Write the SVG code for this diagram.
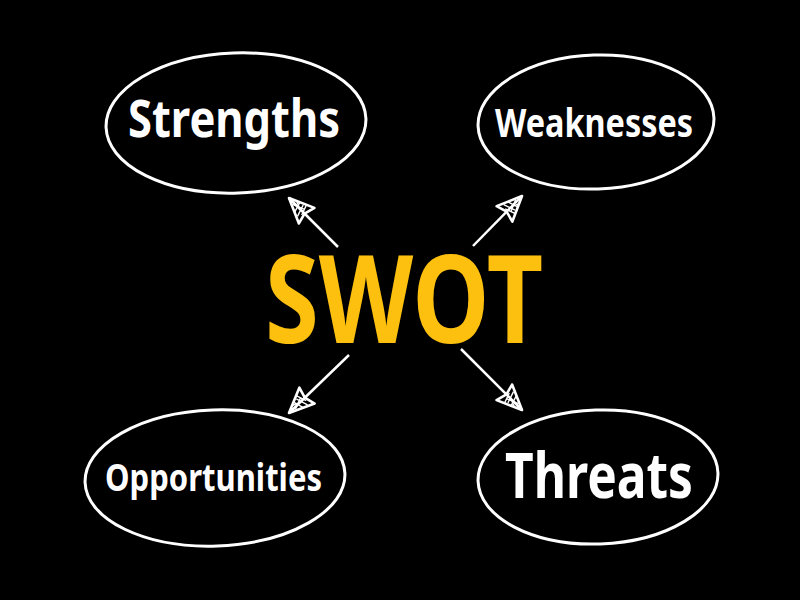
<svg xmlns="http://www.w3.org/2000/svg" width="800" height="600" viewBox="0 0 800 600">
<defs>
<style>
.bubble{fill:none;stroke:#fff;stroke-width:3;}
.label{fill:#fff;font-family:"Noto Sans","Liberation Sans",sans-serif;font-weight:bold;}
.conn{stroke:#fff;stroke-width:2.5;fill:none;}
</style>
<marker id="ah" markerUnits="userSpaceOnUse" markerWidth="32" markerHeight="28" viewBox="-2 -14 32 28" refX="27" refY="0" orient="auto">
<path d="M27,0 L2,-11 L5,0 L2,11 Z" fill="none" stroke="#fff" stroke-width="2.6" stroke-linejoin="round"/>
<path d="M8,-7 L12,5 M13,-6 L16,4 M8,3 L20,-2 M6,-3 L10,8 M9,-1 L19,3" stroke="#fff" stroke-width="1.4" fill="none"/>
</marker>
</defs>
<rect width="800" height="600" fill="#000"/>
<g id="connectors">
<line class="conn" x1="338" y1="247" x2="289" y2="198" marker-end="url(#ah)"/>
<line class="conn" x1="473" y1="246" x2="522" y2="196" marker-end="url(#ah)"/>
<line class="conn" x1="349" y1="355" x2="289" y2="413" marker-end="url(#ah)"/>
<line class="conn" x1="461" y1="349" x2="522" y2="410" marker-end="url(#ah)"/>
</g>
<g id="swot">
<text x="265" y="343" textLength="278" lengthAdjust="spacingAndGlyphs" font-family="'Noto Sans','Liberation Sans',sans-serif" font-weight="bold" font-size="122" fill="#FDC00F">SWOT</text>
</g>
<g id="strengths">
<ellipse class="bubble" cx="236" cy="123" rx="130" ry="70" transform="rotate(-2 236 123)"/>
<text class="label" x="128" y="137" font-size="52" textLength="212" lengthAdjust="spacingAndGlyphs">Strengths</text>
</g>
<g id="weaknesses">
<ellipse class="bubble" cx="596" cy="122" rx="118" ry="67" transform="rotate(-2 596 122)"/>
<text class="label" x="495" y="137" font-size="40" textLength="198" lengthAdjust="spacingAndGlyphs">Weaknesses</text>
</g>
<g id="opportunities">
<ellipse class="bubble" cx="215" cy="478" rx="130" ry="68" transform="rotate(-2 215 478)"/>
<text class="label" x="105" y="491" font-size="38" textLength="217" lengthAdjust="spacingAndGlyphs">Opportunities</text>
</g>
<g id="threats">
<ellipse class="bubble" cx="598" cy="477" rx="120" ry="67" transform="rotate(-2 598 477)"/>
<text class="label" x="505" y="498" font-size="62" textLength="188" lengthAdjust="spacingAndGlyphs">Threats</text>
</g>
</svg>
